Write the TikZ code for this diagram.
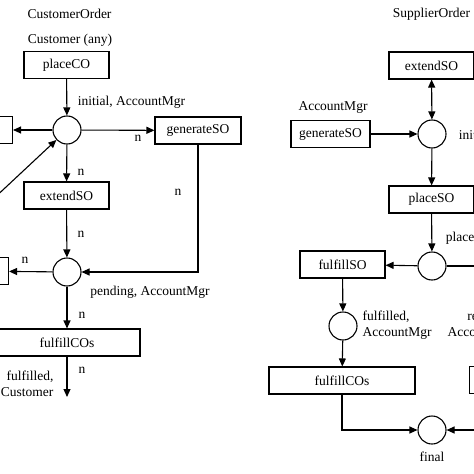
\documentclass[tikz,border=0pt]{standalone}
\usepackage{fontspec}
\setmainfont{Liberation Serif}
\usetikzlibrary{arrows.meta}

\begin{document}
\begin{tikzpicture}[x=1pt,y=-1pt,line width=1.1pt,
    font=\fontsize{13.5}{16}\selectfont,
    trans/.style={rectangle,draw,minimum width=85pt,minimum height=27pt,inner sep=0pt},
    place/.style={circle,draw,minimum size=28pt,inner sep=0pt},
    >={Triangle[length=8pt,width=7pt]}]
\useasboundingbox (0,0) rectangle (474,474);
\clip (0,0) rectangle (474,474);

% CustomerOrder
\node (titleC) at (69.5,14) {CustomerOrder};
\node (roleC) at (70,40) {Customer (any)};
\begin{scope}[every node/.style={trans}]
    \node (placeCO) at (66.5,65) {placeCO};
    \node (left1) at (-30,130) {};
    \node (genSO) at (198,130.5) [minimum width=86pt] {generateSO};
    \node (extSO) at (66.5,195.5) {extendSO};
    \node (left2) at (-34,271) {};
    \node (fulCO) at (67,342.5) [minimum width=146pt] {fulfillCOs};
\end{scope}
\node[place] (cInit) at (67,130) {};
\node[place] (cPend) at (67,272) {};
\coordinate (cIn) at (-10,202);
\coordinate (cOut) at (67,397);

\node at (131.5,102) {initial, AccountMgr};
\node at (150,292) {pending, AccountMgr};
\node[anchor=east,align=right,inner sep=0pt] at (54,384) {fulfilled,\\Customer};

\begin{scope}[every node/.style={inner sep=0pt}]
    \path [->] (placeCO) edge (cInit);
    \path [->] (cInit) edge (left1);
    \path [->] (cInit) edge (genSO);
    \path [->] (cIn) edge (cInit);
    \path [->] (cInit) edge (extSO);
    \path [->] (extSO) edge (cPend);
    \path [->] (cPend) edge (left2);
    \path [->] (cPend) edge (fulCO);
    \path [->] (fulCO) edge (cOut);
    \draw [->] (genSO.south) |- (cPend);
    \node at (138,138) {n};
    \node at (81,172) {n};
    \node at (81,234) {n};
    \node at (25,260) {n};
    \node at (178,192) {n};
    \node at (82,315) {n};
    \node at (82,370) {n};
\end{scope}

% SupplierOrder
\node (titleS) at (431.5,14) {SupplierOrder};
\node (roleS) at (333,107) {AccountMgr};
\begin{scope}[every node/.style={trans}]
    \node (extSO2) at (431.5,65.5) {extendSO};
    \node (genSO2) at (330.5,134) [minimum width=79pt] {generateSO};
    \node (plSO) at (431.5,199.5) {placeSO};
    \node (fulSO) at (342.5,264.5) {fulfillSO};
    \node (fulCO2) at (342,380.5) [minimum width=146pt] {fulfillCOs};
    \node (right1) at (512,380) {};
\end{scope}
\node[place] (sInit) at (432,134) {};
\node[place] (sPlac) at (432,266) {};
\node[place] (sFul) at (343,326) {};
\node[place] (sFin) at (432,430) {};
\coordinate (sOut) at (480,266);
\coordinate (sIn) at (480,430);

\node[anchor=west] at (455,136) {initial, AccountMgr};
\node[anchor=west] at (442,238) {placed, AccountMgr};
\node[anchor=west,align=left,inner sep=0pt] at (362,325) {fulfilled,\\AccountMgr};
\node[anchor=west,align=right,inner sep=0pt] at (447,325) {received,\\AccountMgr};
\node at (432,457) {final};

\path [<->] (extSO2) edge (sInit);
\path [->] (genSO2) edge (sInit);
\path [->] (sInit) edge (plSO);
\path [->] (plSO) edge (sPlac);
\path [->] (sPlac) edge (fulSO);
\path [-] (sPlac) edge (sOut);
\path [->] (fulSO) edge (sFul);
\path [->] (sFul) edge (fulCO2);
\draw [->] (fulCO2.south) |- (sFin);
\path [->] (sIn) edge (sFin);
\end{tikzpicture}
\end{document}
